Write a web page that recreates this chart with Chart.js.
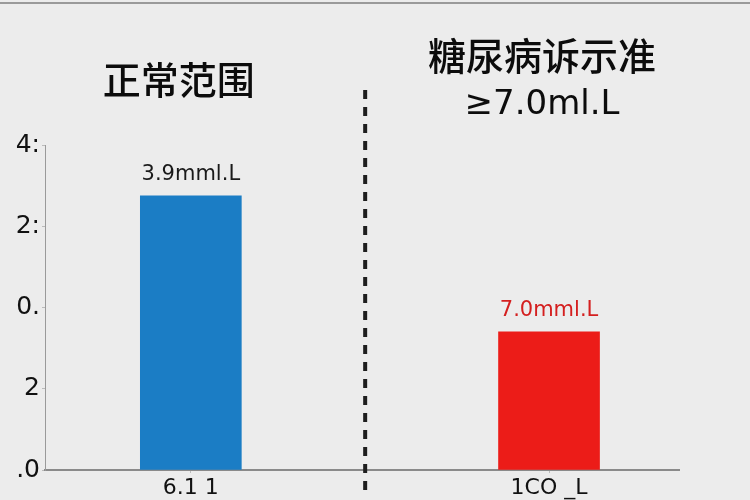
<!DOCTYPE html>
<html>
<head>
<meta charset="utf-8">
<script src="https://cdn.jsdelivr.net/npm/chart.js@4"></script>
<style>
  html, body { margin: 0; padding: 0; background: #ececec; }
  #wrap { width: 750px; height: 500px; position: relative; border-top: 2px solid #9a9a9a; box-sizing: border-box; margin-top: 2px; }
</style>
</head>
<body>
<div id="wrap"><canvas id="chart" width="750" height="496"></canvas></div>
<script>
// data
const categories = ["6.1 1", "1CO _L"];
const barPositions = [2.3, 7.95];
const barValues = [6.75, 3.4];
const barLabels = ["3.9mml.L", "7.0mml.L"];
const barColors = ["#1b7dc5", "#ec1c18"];
const labelColors = ["#1a1a1a", "#d41f1f"];
const yTickLabels = [".0", "2", "0.", "2:", "4:"];
const dividerAt = 5.05;
const titleLeft = ["正常范围"];
const titleRight = ["糖尿病诉示准", "≥7.0ml.L"];

const fontFam = "'DejaVu Sans', 'Noto Sans CJK SC', sans-serif";
const cjkFam = "'Noto Sans CJK SC', 'DejaVu Sans', sans-serif";

// titles, dashed divider and value labels
const extras = {
  id: "extras",
  afterDatasetsDraw(chart) {
    const ctx = chart.ctx;
    const xs = chart.scales.x;
    const meta = chart.getDatasetMeta(0);
    ctx.save();

    // divider
    const dx = xs.getPixelForValue(dividerAt);
    ctx.strokeStyle = "#1e1e1e";
    ctx.lineWidth = 4;
    ctx.setLineDash([9, 8]);
    ctx.beginPath();
    ctx.moveTo(dx, 86);
    ctx.lineTo(dx, 486);
    ctx.stroke();
    ctx.setLineDash([]);

    // value labels
    ctx.textAlign = "center";
    ctx.textBaseline = "bottom";
    ctx.font = "21px " + fontFam;
    meta.data.forEach((bar, i) => {
      ctx.fillStyle = labelColors[i];
      ctx.fillText(barLabels[i], bar.x, bar.y - 11);
    });

    // titles
    ctx.fillStyle = "#0c0c0c";
    ctx.textBaseline = "middle";
    ctx.font = "500 38px " + cjkFam;
    ctx.fillText(titleLeft[0], meta.data[0].x - 12, 76);
    ctx.fillText(titleRight[0], meta.data[1].x - 7, 52);
    ctx.font = "34px " + fontFam;
    ctx.fillText(titleRight[1], meta.data[1].x - 7, 101);
    ctx.restore();
  }
};

new Chart(document.getElementById("chart"), {
  type: "bar",
  data: {
    datasets: [{
      data: barPositions.map((x, i) => ({ x: x, y: barValues[i] })),
      backgroundColor: barColors,
      barThickness: 101,
      borderWidth: 0
    }]
  },
  options: {
    responsive: false,
    animation: false,
    layout: { padding: { top: 141, right: 71, left: 0, bottom: 0 } },
    plugins: { legend: { display: false }, tooltip: { enabled: false } },
    scales: {
      x: {
        type: "linear",
        min: 0,
        max: 10,
        offset: false,
        afterBuildTicks: (s) => { s.ticks = barPositions.map(v => ({ value: v })); },
        afterFit: (s) => { s.height = 30; },
        ticks: {
          autoSkip: false,
          maxRotation: 0,
          color: "#111",
          font: { size: 22, family: fontFam },
          padding: 2,
          callback: (v, i) => categories[i]
        },
        grid: { offset: false, drawOnChartArea: false, tickLength: 3, color: "#bbb" },
        border: { color: "#8a8a8a", width: 2 }
      },
      y: {
        min: 0,
        max: 8,
        afterFit: (s) => { s.width = 45; },
        ticks: {
          stepSize: 2,
          color: "#111",
          font: { size: 25, family: fontFam },
          padding: 2,
          callback: (v, i) => yTickLabels[i]
        },
        grid: { drawOnChartArea: false, tickLength: 3, color: "#bbb" },
        border: { color: "#9a9a9a", width: 1 }
      }
    }
  },
  plugins: [extras]
});
</script>
</body>
</html>
